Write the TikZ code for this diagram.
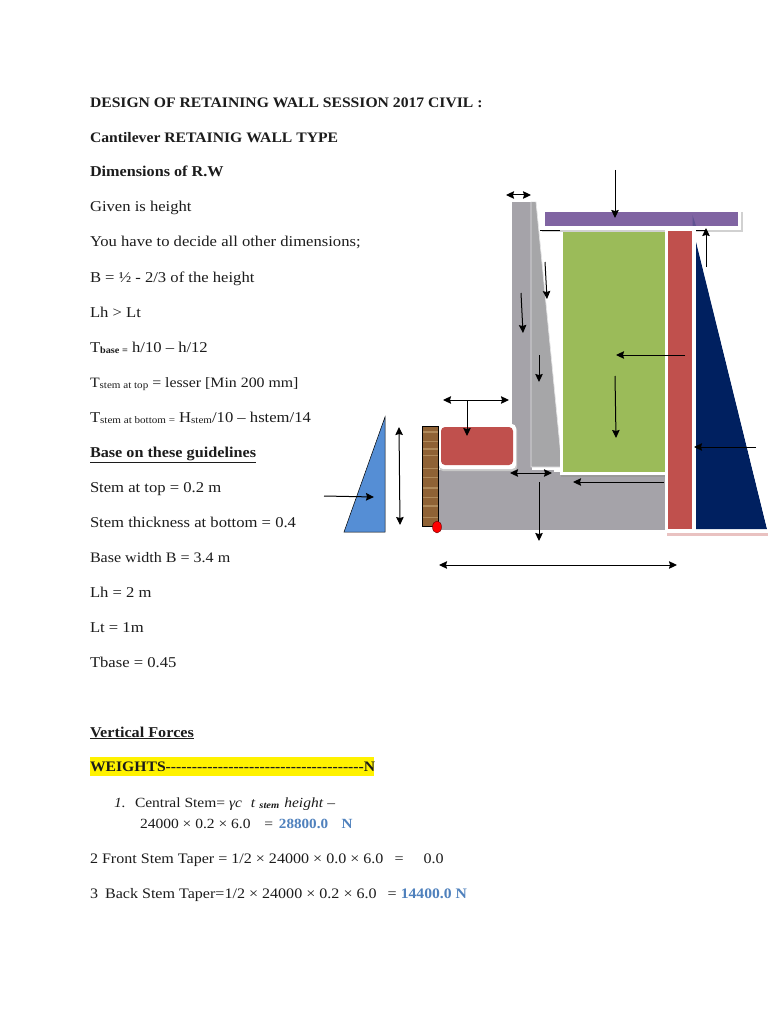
\documentclass[tikz,border=0pt]{standalone}
\usepackage{fontspec}
\setmainfont[FakeStretch=1.108,BoldFeatures={FakeStretch=1.08}]{Liberation Serif}
\usetikzlibrary{arrows.meta}
\definecolor{stemgrey}{HTML}{A5A3A9}
\definecolor{tapergrey}{HTML}{A6A6A8}
\definecolor{soilgreen}{HTML}{9BBB59}
\definecolor{wallred}{HTML}{C0504D}
\definecolor{slabpurple}{HTML}{8064A2}
\definecolor{navyload}{HTML}{002060}
\definecolor{blueload}{HTML}{558ED5}
\definecolor{woodbrown}{HTML}{8F6235}
\definecolor{woodlight}{HTML}{B08A5B}
\definecolor{valblue}{HTML}{4F81BD}
\definecolor{inktext}{HTML}{1C1C1C}
\tikzset{
  line/.style={anchor=base west,inner sep=0pt,outer sep=0pt,text=inktext,font=\fontsize{15}{17}\selectfont},
  linenum/.style={line,font=\fontsize{14.5}{17}\selectfont},
  linesmall/.style={line,font=\fontsize{14}{17}\selectfont},
  hd/.style={line,font=\fontsize{15}{17}\selectfont\bfseries},
  hdcaps/.style={line,font=\fontsize{14.5}{17}\selectfont\bfseries},
  arr/.style={draw=black,line width=1pt,-{Stealth[length=8pt,width=7.5pt,inset=1pt]}},
  dbl/.style={draw=black,line width=1pt,{Stealth[length=8pt,width=7.5pt,inset=1pt]}-{Stealth[length=8pt,width=7.5pt,inset=1pt]}},
}
\newcommand{\sbb}[1]{\raisebox{-1.5pt}{\fontsize{9.5}{10}\selectfont\bfseries #1}}
\newcommand{\sbt}[1]{\raisebox{-1.5pt}{\fontsize{10}{10}\selectfont #1}}
\begin{document}
\begin{tikzpicture}[x=1pt,y=-1pt]
\useasboundingbox (0,0) rectangle (768,1024);
\fill[white] (0,0) rectangle (768,1024);
% highlight
\fill[yellow] (90,757) rectangle (374,776);
% text
\node[hdcaps] (t1) at (90,108) {DESIGN OF RETAINING WALL SESSION 2017 CIVIL :};
\node[hdcaps] (t2) at (90,143) {Cantilever RETAINIG WALL TYPE};
\node[hd] (t3) at (90,177) {Dimensions of R.W};
\node[line] (t4) at (90,212) {Given is height};
\node[line] (t5) at (90,247) {You have to decide all other dimensions;};
\node[line] (t6) at (90,282) {B = ½ - 2/3 of the height};
\node[line] (t7) at (90,317) {Lh > Lt};
\node[line] (t8) at (90,352) {T\sbb{base =} h/10 – h/12};
\node[line,font=\fontsize{14.3}{17}\selectfont] (t9) at (90,387) {T\sbt{stem at top} = lesser [Min 200 mm]};
\node[line] (t10) at (90,422) {T\sbt{stem at bottom =} H\sbt{stem}/10 – hstem/14};
\node[hd] (t11) at (90,457) {\underline{Base on these guidelines}};
\node[line] (t12) at (90,492) {Stem at top = 0.2 m};
\node[line] (t13) at (90,527) {Stem thickness at bottom = 0.4};
\node[linenum] (t14) at (90,562) {Base width B = 3.4 m};
\node[line] (t15) at (90,597) {Lh = 2 m};
\node[line] (t16) at (90,632) {Lt = 1m};
\node[line] (t17) at (90,667) {Tbase = 0.45};
\node[hd] (t18) at (90,737) {\underline{Vertical Forces}};
\node[hdcaps] (t19) at (90,771) {WEIGHTS-{}-{}-{}-{}-{}-{}-{}-{}-{}-{}-{}-{}-{}-{}-{}-{}-{}-{}-{}-{}-{}-{}-{}-{}-{}-{}-{}-{}-{}-{}-{}-{}-{}-{}-{}-{}-{}-{}N};
\node[linesmall] (t20) at (114,807) {\textit{1.}};
\node[linesmall] (t21) at (135,807) {Central Stem= \textit{γc\hspace{5pt} t} \sbb{\textit{stem}}\hspace{5pt}\textit{height} –};
\node[linesmall] (t22) at (140,828) {24000 × 0.2 × 6.0 \hspace{6pt} = \hspace{2pt}\textcolor{valblue}{\bfseries 28800.0 \hspace{6pt} N}};
\node[linenum] (t23) at (90,863) {2 Front Stem Taper = 1/2 × 24000 × 0.0 × 6.0 \hspace{3pt} = \hspace{12pt} 0.0};
\node[linenum] (t24) at (90,898) {3\hspace{3pt} Back Stem Taper=1/2 × 24000 × 0.2 × 6.0 \hspace{3pt} = \textcolor{valblue}{\bfseries 14400.0 N}};
% wall
\fill[stemgrey] (512,202) rectangle (532,475);
\fill[stemgrey] (439,470) rectangle (667,530);
\fill[tapergrey] (531,202) -- (536,202) -- (562,467) -- (531,467) -- cycle;
\draw[white!70!tapergrey,line width=0.7pt] (536,202) -- (562,467) -- (531,467) -- (531,202);
\fill[white] (554,467.5) rectangle (563,472);
\fill[black!40] (561,475) rectangle (666,477);
% green
\fill[white] (560,230) rectangle (667,475);
\fill[soilgreen] (563,231) rectangle (665,472);
% top slab
\fill[black!18] (542,212) rectangle (743,232);
\fill[white] (541,208) rectangle (741,230);
\fill[slabpurple] (545,212) rectangle (738,226);
\fill[slabpurple!75!navyload] (692.5,215) -- (696,226) -- (692.5,226) -- cycle;
% navy
\fill[navyload] (696,242) -- (696,529) -- (767,529) -- cycle;
\draw[white,line width=1.6pt] (697,240) -- (768,529);
% red wall
\fill[wallred!35] (667,533) rectangle (768,535.5);
\fill[white] (665,228) rectangle (696,533);
\fill[white] (696,529.5) rectangle (768,533);
\fill[wallred] (668,231) rectangle (692,529);
% red block
\fill[black!22,rounded corners=4pt] (439,426) rectangle (517,471);
\fill[white,rounded corners=4pt] (439,424) rectangle (516,469);
\fill[wallred,rounded corners=4pt] (441,427) rectangle (513,465);
% wood
\fill[woodbrown] (422,426) rectangle (438,526);
\foreach \yy/\ww in {432/1.2,441/0.6,449/1.4,455/0.6,468/1,477/0.7,488/1.3,497/0.7,506/1.2,517/0.8}
  \draw[woodlight,line width=\ww pt] (422,\yy) -- (438,\yy);
\draw[black,line width=0.7pt] (422,426) rectangle (438,526);
% toe
\coordinate (toe) at (437,527);
\filldraw[fill=red,draw=black!60!red,line width=0.4pt] (toe) ellipse [x radius=4.5pt,y radius=6pt];
% blue load triangle
\fill[blueload,draw=black,line width=0.5pt] (344,532) -- (385,532) -- (385,417) -- cycle;
% short dark lines at slab underside
\coordinate (la) at (540,230); \coordinate (lb) at (560,230);
\coordinate (lc) at (696,230); \coordinate (ld) at (706,230);
\draw[black,line width=0.7pt] (la) -- (lb);
\draw[black,line width=0.7pt] (lc) -- (ld);
% connector ends
\coordinate (a1) at (506,195); \coordinate (a2) at (531,195);
\coordinate (b1) at (615,170); \coordinate (b2) at (615,218);
\coordinate (c1) at (545,262); \coordinate (c2) at (547,299);
\coordinate (d1) at (521,293); \coordinate (d2) at (523,333);
\coordinate (e1) at (539,355); \coordinate (e2) at (539,382);
\coordinate (f1) at (685,355); \coordinate (f2) at (616,355);
\coordinate (g1) at (615,376); \coordinate (g2) at (616,438);
\coordinate (h1) at (706,267); \coordinate (h2) at (706,228);
\coordinate (i1) at (756,447); \coordinate (i2) at (694,447);
\coordinate (j1) at (664,482); \coordinate (j2) at (573,482);
\coordinate (k1) at (510,473); \coordinate (k2) at (552,473);
\coordinate (m1) at (539,482); \coordinate (m2) at (539,541);
\coordinate (n1) at (439,565); \coordinate (n2) at (677,565);
\coordinate (o1) at (443,400); \coordinate (o2) at (509,400);
\coordinate (p1) at (467,400); \coordinate (p2) at (467,436);
\coordinate (q1) at (399,427); \coordinate (q2) at (400,525);
\coordinate (r1) at (324,496); \coordinate (r2) at (374,497);
\draw[dbl] (a1) -- (a2);
\draw[arr] (b1) -- (b2);
\draw[arr] (c1) -- (c2);
\draw[arr] (d1) -- (d2);
\draw[arr] (e1) -- (e2);
\draw[arr] (f1) -- (f2);
\draw[arr] (g1) -- (g2);
\draw[arr] (h1) -- (h2);
\draw[arr] (i1) -- (i2);
\draw[arr] (j1) -- (j2);
\draw[dbl] (k1) -- (k2);
\draw[arr] (m1) -- (m2);
\draw[dbl] (n1) -- (n2);
\draw[dbl] (o1) -- (o2);
\draw[arr] (p1) -- (p2);
\draw[dbl] (q1) -- (q2);
\draw[arr] (r1) -- (r2);
\end{tikzpicture}
\end{document}
